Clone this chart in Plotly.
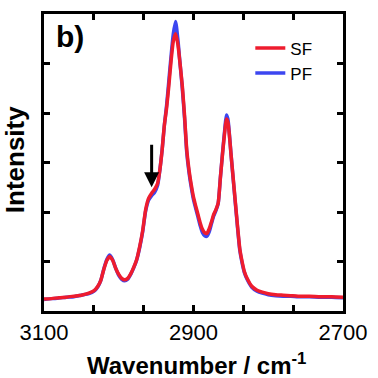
import plotly.graph_objects as go

# ---- data ----
wavenumber = [3100, 3090, 3080, 3070, 3060, 3050, 3040, 3033, 3028, 3024, 3020, 3016, 3012, 3008, 3004,
              3000, 2996, 2992, 2988, 2984, 2980, 2976, 2972, 2968, 2964, 2960, 2956, 2952, 2948, 2945,
              2942, 2939, 2936, 2933, 2930, 2927, 2924, 2921, 2918, 2915, 2912, 2909, 2906, 2903, 2900,
              2897, 2894, 2891, 2888, 2885, 2882, 2879, 2876, 2873, 2870, 2867, 2864, 2861, 2858, 2856,
              2854, 2852, 2850, 2847, 2844, 2841, 2838, 2835, 2832, 2828, 2822, 2815, 2808, 2800, 2790,
              2780, 2770, 2760, 2745, 2730, 2715, 2700]

sf = [0.24, 0.25, 0.27, 0.28, 0.30, 0.32, 0.36, 0.41, 0.50, 0.62, 0.84, 1.02, 1.10, 1.02, 0.86,
      0.74, 0.66, 0.63, 0.66, 0.75, 0.88, 1.04, 1.30, 1.62, 2.05, 2.28, 2.38, 2.46, 2.58, 2.85,
      3.25, 3.75, 4.10, 4.55, 5.05, 5.45, 5.60, 5.40, 5.00, 4.55, 3.95, 3.25, 2.85, 2.55, 2.30,
      2.12, 1.95, 1.78, 1.65, 1.58, 1.57, 1.66, 1.80, 1.95, 2.05, 2.18, 2.70, 3.20, 3.65, 3.88,
      3.82, 3.55, 3.20, 2.70, 2.20, 1.70, 1.25, 1.00, 0.80, 0.65, 0.50, 0.42, 0.38, 0.35, 0.33,
      0.32, 0.31, 0.30, 0.30, 0.29, 0.29, 0.28]

pf = [0.23, 0.25, 0.26, 0.28, 0.29, 0.32, 0.35, 0.40, 0.49, 0.62, 0.85, 1.04, 1.13, 1.03, 0.86,
      0.72, 0.64, 0.61, 0.64, 0.74, 0.87, 1.03, 1.28, 1.60, 2.02, 2.24, 2.33, 2.40, 2.54, 2.85,
      3.25, 3.75, 4.15, 4.65, 5.15, 5.60, 5.85, 5.50, 5.00, 4.50, 3.90, 3.20, 2.80, 2.50, 2.25,
      2.07, 1.90, 1.72, 1.58, 1.52, 1.51, 1.60, 1.76, 1.92, 2.03, 2.17, 2.70, 3.22, 3.70, 3.96,
      3.88, 3.58, 3.20, 2.68, 2.17, 1.67, 1.22, 0.97, 0.78, 0.63, 0.48, 0.40, 0.36, 0.33, 0.31,
      0.30, 0.30, 0.29, 0.29, 0.28, 0.28, 0.27]

x_tickvals = [3100, 2900, 2700]
x_ticktext = ["3100", "2900", "2700"]
x_minor_step = 200 / 3
y_tickvals = [1, 2, 3, 4, 5]

arrow_wn = 2956
arrow_tip = 2.50

FONT = "Arial, Liberation Sans, Helvetica, sans-serif"

fig = go.Figure()
fig.add_trace(go.Scatter(x=wavenumber, y=pf, mode="lines", name="PF",
                         line=dict(color="#3c46f0", width=3.5, shape="spline", smoothing=0.6)))
fig.add_trace(go.Scatter(x=wavenumber, y=sf, mode="lines", name="SF",
                         line=dict(color="#ee1c2e", width=3.5, shape="spline", smoothing=0.6)))

axis_common = dict(showline=True, linecolor="black", linewidth=3, mirror="ticks",
                   ticks="inside", ticklen=6, tickwidth=2.5, tickcolor="black",
                   showgrid=False, zeroline=False)

fig.update_layout(
    width=378, height=378,
    margin=dict(l=44, r=33, t=11, b=67),
    paper_bgcolor="white", plot_bgcolor="white",
    font=dict(family=FONT, color="black"),
    xaxis=dict(range=[3100, 2700], tickvals=x_tickvals, ticktext=x_ticktext,
               tickfont=dict(size=22, family=FONT),
               minor=dict(tick0=3100, dtick=x_minor_step, ticks="inside", ticklen=6,
                          tickwidth=2.5, tickcolor="black", showgrid=False),
               **axis_common),
    yaxis=dict(range=[0, 6], tickvals=y_tickvals, showticklabels=False, **axis_common),
    showlegend=True,
    legend=dict(x=0.69, y=0.945, xanchor="left", yanchor="top", traceorder="reversed",
                font=dict(size=17, family=FONT), bgcolor="rgba(0,0,0,0)",
                itemwidth=30, tracegroupgap=0),
)

fig.add_annotation(text="<b>Wavenumber / cm<sup>-1</sup></b>", xref="paper", yref="paper",
                   x=0.51, y=-0.12, xanchor="center", yanchor="top", showarrow=False,
                   font=dict(size=24, family=FONT))
fig.add_annotation(text="<b>Intensity</b>", xref="paper", yref="paper", textangle=-90,
                   x=-0.098, y=0.51, xanchor="center", yanchor="middle", showarrow=False,
                   font=dict(size=26, family=FONT))
fig.add_annotation(text="<b>b)</b>", xref="paper", yref="paper",
                   x=0.033, y=0.985, xanchor="left", yanchor="top", showarrow=False,
                   font=dict(size=30, family=FONT))
fig.add_annotation(x=arrow_wn, y=arrow_tip, xref="x", yref="y", text="", showarrow=True,
                   ax=0, ay=-44, arrowhead=2, arrowsize=1, arrowwidth=3, arrowcolor="black")

fig.write_html("out.html", config={"displayModeBar": False},
               post_script="document.body.style.margin='0';document.body.style.padding='0';")
